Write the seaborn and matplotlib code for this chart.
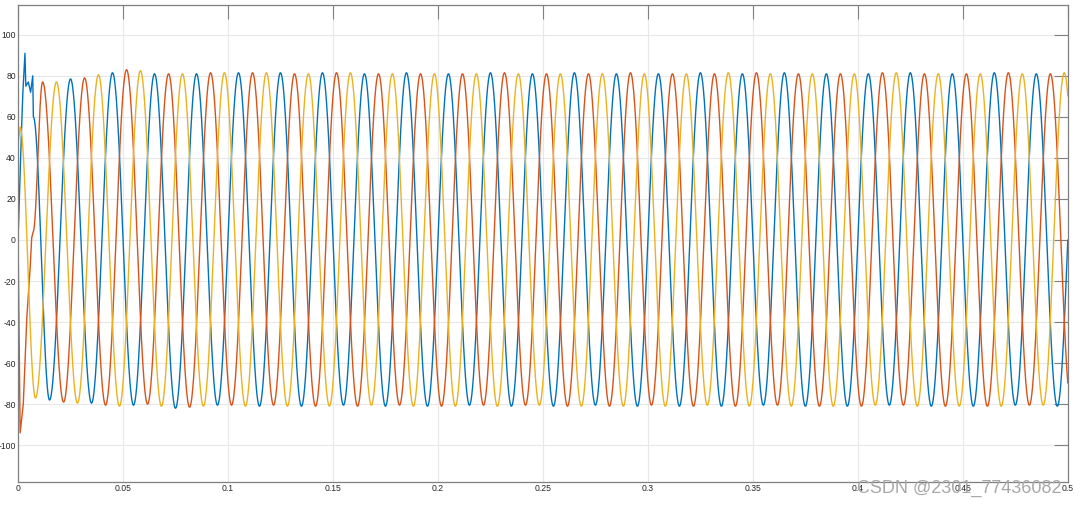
import numpy as np
import pandas as pd
import matplotlib
matplotlib.use("Agg")
import matplotlib.pyplot as plt
import seaborn as sns

# three-phase signal, 50 Hz
freq = 50.0
t_end = 0.5

# peak / trough values per cycle
blue_peaks = [77, 78.5, 81.5, 81, 81, 81.5, 81.5, 81.5, 81, 81.5, 81, 81.5, 81,
              81.5, 81, 81, 81.5, 81, 81.5, 81, 81, 81.5, 81, 81.5, 81, 81]
blue_troughs = [-78, -79.5, -80.5, -82, -80.5, -81, -81, -80.5, -81, -81, -80.5,
                -81, -81, -80.5, -81, -81, -81, -80.5, -81, -81, -80.5, -81, -81,
                -80.5, -81]
orange_peaks = [77, 79, 83, 81, 81.5, 81.5, 81, 81.5, 81, 81, 81, 81.5, 81, 81,
                81.5, 81, 81, 81.5, 81, 81, 81.5, 81, 81, 81.5, 81]
orange_troughs = [-95, -79, -80.5, -80, -81.5, -80.5, -80.5, -81, -81, -80.5, -81,
                  -80.5, -80.5, -81, -81, -80.5, -81, -81, -80.5, -81, -81, -80.5,
                  -81, -81, -80.5, -81]
yellow_peaks = [77, 80.5, 82.5, 81, 81.5, 81.5, 81, 81.5, 81, 81, 81, 81, 81, 81,
                81, 81, 81.5, 81, 81, 81, 81.5, 81, 81, 81, 81.5]
yellow_troughs = [-77, -79.5, -81, -81, -81, -81, -81, -81, -80.5, -81, -81, -81,
                  -80.5, -81, -81, -81, -80.5, -81, -81, -81, -80.5, -81, -81, -81,
                  -80.5, -81]

# time of the first peak / trough of each phase (s)
blue_first = (0.005, 0.015)
orange_first = (0.0117, 0.0017)
yellow_first = (0.0183, 0.0083)

# start-up transient, read point by point
blue_start_t = [0, 0.0012, 0.0022, 0.0033, 0.0037, 0.0049, 0.006, 0.007, 0.0073]
blue_start_v = [0, 40, 70, 91, 75, 77, 72, 80, 60]
orange_start_t = [0, 0.001, 0.0025, 0.0041, 0.0057, 0.0065, 0.0072]
orange_start_v = [3, -94, -80, -39, -15, 1, 4]
yellow_start_t = [0, 0.001]
yellow_start_v = [47, 55]

x_ticks = [0, 0.05, 0.1, 0.15, 0.2, 0.25, 0.3, 0.35, 0.4, 0.45, 0.5]
x_tick_labels = ["0", "0.05", "0.1", "0.15", "0.2", "0.25", "0.3", "0.35", "0.4",
                 "0.45", "0.5"]
y_ticks = [-100, -80, -60, -40, -20, 0, 20, 40, 60, 80, 100]

colors = ["#0072BD", "#D95319", "#EDB120"]


def extrema(first, peaks, troughs, start_t, start_v):
    period = 1.0 / freq
    pt = first[0] + period * np.arange(len(peaks))
    tt = first[1] + period * np.arange(len(troughs))
    et = np.concatenate([pt, tt, [start_t[-1]]])
    ev = np.concatenate([peaks, troughs, [start_v[-1]]])
    order = np.argsort(et)
    return et[order], ev[order]


def build_wave(t, first, peaks, troughs, start_t, start_v):
    et, ev = extrema(first, peaks, troughs, start_t, start_v)
    keep = et >= start_t[-1]
    et, ev = et[keep], ev[keep]
    idx = np.clip(np.searchsorted(et, t) - 1, 0, len(et) - 2)
    t0, t1 = et[idx], et[idx + 1]
    v0, v1 = ev[idx], ev[idx + 1]
    frac = np.clip((t - t0) / (t1 - t0), 0, 1)
    y = (v0 + v1) / 2 + (v0 - v1) / 2 * np.cos(np.pi * frac)
    early = t <= start_t[-1]
    y[early] = np.interp(t[early], start_t, start_v)
    return y


t = np.linspace(0, t_end, 5001)
phases = {
    "a": build_wave(t, blue_first, blue_peaks, blue_troughs, blue_start_t, blue_start_v),
    "b": build_wave(t, orange_first, orange_peaks, orange_troughs, orange_start_t, orange_start_v),
    "c": build_wave(t, yellow_first, yellow_peaks, yellow_troughs, yellow_start_t, yellow_start_v),
}
df = pd.concat([pd.DataFrame({"t": t, "value": v, "phase": k}) for k, v in phases.items()],
               ignore_index=True)

sns.set_style("white")
plt.rcParams["font.family"] = ["Liberation Sans", "DejaVu Sans"]
plt.rcParams["axes.unicode_minus"] = False

fig = plt.figure(figsize=(10.8, 5.08), dpi=100)
ax = fig.add_axes([0.0167, 0.051, 0.972, 0.939])

sns.lineplot(data=df, x="t", y="value", hue="phase", palette=colors,
             estimator=None, sort=False, linewidth=1.0, legend=False, ax=ax)

ax.set_xlim(0, t_end)
ax.set_ylim(-118, 114.5)
ax.set_xticks(x_ticks)
ax.set_xticklabels(x_tick_labels)
ax.set_yticks(y_ticks)
ax.set_xlabel("")
ax.set_ylabel("")
ax.grid(True, color="#e8e8e8", linewidth=0.8)
ax.set_axisbelow(True)
ax.tick_params(direction="in", length=10, width=0.8, top=True, right=True,
               colors="#808080", labelcolor="#262626", labelsize=6.2, pad=1.5)
for s in ax.spines.values():
    s.set_color("#7f7f7f")
    s.set_linewidth(0.9)

fig.text(0.983, 0.022, "CSDN @2301_77436082", ha="right", va="bottom",
         fontsize=13, color="#a8a8a8", zorder=0)

fig.savefig("out.png", dpi=100, facecolor="white")
